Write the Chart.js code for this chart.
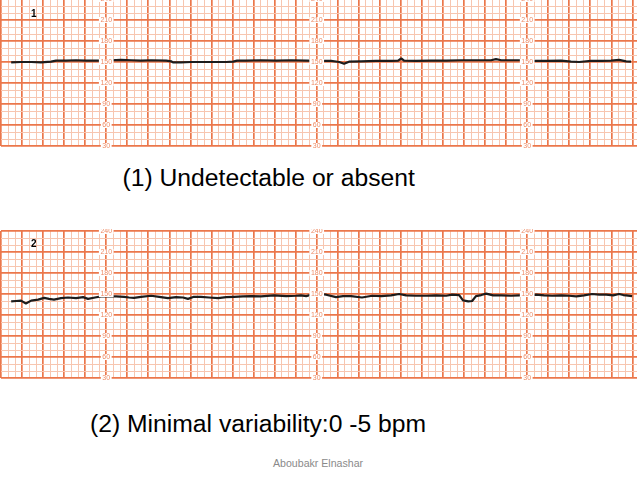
<!DOCTYPE html>
<html>
<head>
<meta charset="utf-8">
<script src="https://cdn.jsdelivr.net/npm/chart.js@4.4.1/dist/chart.umd.min.js"></script>
<style>
  html, body { margin:0; padding:0; background:#fff; width:638px; height:479px; overflow:hidden; position:relative; font-family:"Liberation Sans", Arial, sans-serif; }
  canvas { position:absolute; }
  .t { position:absolute; white-space:nowrap; line-height:1; color:#000; }
</style>
</head>
<body>
<canvas id="c1" width="640" height="151" style="left:-1.3px; top:-3.3px; width:640px; height:151px;"></canvas>
<canvas id="c2" width="640" height="151" style="left:-1.3px; top:228.7px; width:640px; height:151px;"></canvas>
<div class="t" style="left:31px; top:8.5px; font-size:10px; font-weight:bold;">1</div>
<div class="t" style="left:31px; top:238.5px; font-size:10px; font-weight:bold;">2</div>
<div class="t" style="left:122.5px; top:165.8px; font-size:24.7px;">(1) Undetectable or absent</div>
<div class="t" style="left:90px; top:412.4px; font-size:24.7px;">(2) Minimal variability:0 -5 bpm</div>
<div class="t" style="left:273px; top:458px; font-size:10.6px; color:#8a8a8a;">Aboubakr Elnashar</div>
<script>
// Time in seconds along the strip, fetal heart rate in bpm
const strip1Seconds = [29,57,86,114,143,157,185,214,242,277,294,314,342,371,399,428,471,485,490,513,542,570,599,642,662,673,699,741,784,827,870,907,941,964,978,992,1027,1069,1112,1132,1141,1149,1183,1226,1269,1312,1354,1397,1411,1426,1454,1483,1520,1554,1597,1625,1648,1682,1711,1739,1762,1782,1796];
const strip1Bpm = [149.5,150,150,149.5,150.5,152,152,152.5,152,152,152,152.5,153,152.5,152,152.5,152,151,149.5,149.5,150,150,150,150,150.5,152,152,152.5,152,152.5,152,151.5,151.5,150,147.5,150.5,151,151.5,151.5,152,155,152,151.5,152,152,152.5,152.5,152.5,154,152.5,152.5,152.5,151.5,151.5,152,150.5,150,151.5,151.5,152,153,151,150.5];

const strip2Seconds = [29,43,57,71,86,106,123,137,151,171,191,214,234,248,268,285,305,328,351,365,379,399,428,451,476,499,519,533,550,570,593,619,642,664,690,713,741,778,813,841,855,870,884,893,907,927,955,975,998,1029,1058,1084,1112,1135,1155,1183,1212,1240,1269,1286,1306,1317,1332,1343,1354,1369,1383,1403,1426,1454,1477,1500,1526,1548,1571,1597,1620,1640,1662,1685,1705,1725,1745,1762,1774,1782,1799];
const strip2Bpm = [139.5,140,140.5,136.5,140.5,142,144.5,143,142,144,145,144,145.5,143,145,146.5,146.5,146.5,146,145,144.5,146,147.5,146,144,145.5,145,143,146,146,145,144,145.5,146,146.5,147,146.5,148,147,147.5,148,147,149,148.5,150,149,145.5,147,147,145,147.5,147,148,150,148,147.5,147.5,148,147.5,149,148.5,141,139.5,140,147,148.5,150.5,148,148,147.5,148,148.5,149,148,147.5,148,147.5,146.5,148,150,149,149,148,150,148.5,148,147];

const yTickLabels = [30,60,90,120,150,180,210,240];
const labelColumnSeconds = [300, 900, 1500];
const stripEndSeconds = 1813;
const boxSeconds = 20;

const MAJOR = '#eb774b';
const MINOR = '#f7c6b0';

const labelPlugin = {
  id: 'stripLabels',
  afterDatasetsDraw(chart) {
    const ctx = chart.ctx;
    const xs = chart.scales.x, ys = chart.scales.y;
    ctx.save();
    ctx.font = '7px "Liberation Sans", Arial, sans-serif';
    ctx.textAlign = 'center';
    ctx.textBaseline = 'middle';
    labelColumnSeconds.forEach(sec => {
      const px = xs.getPixelForValue(sec);
      yTickLabels.forEach(v => {
        const py = ys.getPixelForValue(v);
        const w = ctx.measureText(String(v)).width + 3;
        ctx.fillStyle = '#ffffff';
        ctx.fillRect(px - w/2, py - 3, w, 6);
        ctx.fillStyle = '#ee8c66';
        ctx.fillText(String(v), px, py + 0.5);
      });
    });
    ctx.restore();
  }
};

function makeStrip(id, secs, bpm) {
  const pts = secs.map((s, i) => ({x: s, y: bpm[i]}));
  return new Chart(document.getElementById(id), {
    type: 'line',
    data: { datasets: [{ data: pts, borderColor: '#1c1c1c', borderWidth: 2.2, pointRadius: 0, tension: 0, fill: false, borderJoinStyle: 'round' }] },
    options: {
      responsive: false, animation: false, devicePixelRatio: 1,
      layout: { padding: { left: 2, right: 2, top: 2, bottom: 2 } },
      plugins: { legend: { display: false }, tooltip: { enabled: false } },
      scales: {
        x: {
          type: 'linear', min: 0, max: stripEndSeconds,
          afterBuildTicks(scale) {
            const t = [];
            for (let v = 0; v <= stripEndSeconds; v += boxSeconds) t.push({ value: v });
            scale.ticks = t;
          },
          ticks: { display: false },
          border: { display: false },
          grid: {
            drawTicks: false,
            color: c => (c.tick && c.tick.value % (3*boxSeconds) === 0) ? MAJOR : MINOR,
            lineWidth: c => (c.tick && c.tick.value % (3*boxSeconds) === 0) ? 1.7 : 1
          }
        },
        y: {
          type: 'linear', min: 30, max: 240,
          ticks: { display: false, stepSize: 10 },
          border: { display: false },
          grid: {
            drawTicks: false,
            color: c => (c.tick && (c.tick.value - 30) % 30 === 0) ? MAJOR : MINOR,
            lineWidth: c => (c.tick && (c.tick.value - 30) % 30 === 0) ? 1.7 : 1
          }
        }
      }
    },
    plugins: [labelPlugin]
  });
}

makeStrip('c1', strip1Seconds, strip1Bpm);
makeStrip('c2', strip2Seconds, strip2Bpm);
</script>
</body>
</html>
